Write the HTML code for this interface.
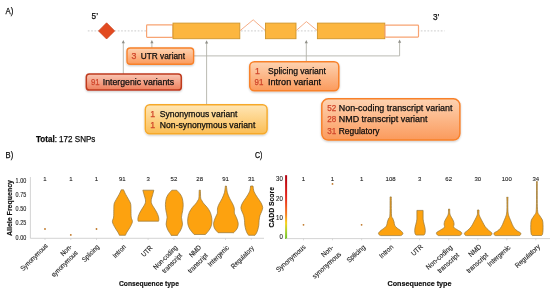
<!DOCTYPE html>
<html><head><meta charset="utf-8"><title>Figure</title>
<style>
html,body{margin:0;padding:0;background:#fff;}
body{width:550px;height:291px;overflow:hidden;font-family:"Liberation Sans",sans-serif;}
svg{display:block;font-family:"Liberation Sans",sans-serif;filter:blur(0.4px);}
.lbl{font-size:8.8px;fill:#0c0c0c;stroke:#0c0c0c;stroke-width:0.25;}
.num{fill:#d0452a;stroke:#d0452a;}
.tick{font-size:6.3px;fill:#1c1c1c;stroke:#1c1c1c;stroke-width:0.1;}
.cnt{font-size:6px;fill:#1c1c1c;stroke:#1c1c1c;stroke-width:0.1;}
.xl{font-size:7px;fill:#1c1c1c;stroke:#1c1c1c;stroke-width:0.12;}
.ax{font-size:7.2px;font-weight:bold;fill:#0c0c0c;stroke:#0c0c0c;stroke-width:0.15;}
.v path{fill:#fda20f;stroke:#94763a;stroke-width:0.7;stroke-linejoin:round;}
.arr{stroke:#b2b2aa;stroke-width:0.9;fill:none;}
.arrh{fill:#8f8f88;}
</style></head><body>
<svg width="550" height="291" viewBox="0 0 550 291">
<defs>
<linearGradient id="gO" x1="0" y1="0" x2="0" y2="1"><stop offset="0" stop-color="#fdd3b2"/><stop offset="1" stop-color="#fb9a5c"/></linearGradient>
<linearGradient id="gR" x1="0" y1="0" x2="0" y2="1"><stop offset="0" stop-color="#f9c6b4"/><stop offset="1" stop-color="#ee7f5c"/></linearGradient>
<linearGradient id="gY" x1="0" y1="0" x2="0" y2="1"><stop offset="0" stop-color="#ffe6b6"/><stop offset="1" stop-color="#fbbe55"/></linearGradient>
<linearGradient id="gBar" x1="0" y1="0" x2="0" y2="1"><stop offset="0" stop-color="#b00010"/><stop offset="0.35" stop-color="#e8281c"/><stop offset="0.62" stop-color="#f58220"/><stop offset="0.75" stop-color="#f7d21a"/><stop offset="0.88" stop-color="#a8d030"/><stop offset="1" stop-color="#6cc024"/></linearGradient>
<filter id="sh" x="-10%" y="-20%" width="120%" height="150%"><feGaussianBlur in="SourceAlpha" stdDeviation="0.9"/><feOffset dx="0" dy="1"/><feComponentTransfer><feFuncA type="linear" slope="0.22"/></feComponentTransfer><feMerge><feMergeNode/><feMergeNode in="SourceGraphic"/></feMerge></filter>
</defs>
<rect width="550" height="291" fill="#fff"/>

<text x="5.6" y="13.9" class="lbl" textLength="7.8" lengthAdjust="spacingAndGlyphs">A)</text>
<text x="91.6" y="18.7" class="lbl" style="font-size:8.8px" textLength="6.4" lengthAdjust="spacingAndGlyphs">5’</text>
<text x="433" y="20.3" class="lbl" style="font-size:8.8px" textLength="6.4" lengthAdjust="spacingAndGlyphs">3’</text>
<line x1="87.8" y1="30.9" x2="444.6" y2="30.9" stroke="#c6c6c6" stroke-width="0.9" stroke-dasharray="1.7,1.63"/>
<path d="M106.6,22.8 L114.7,30.9 L106.6,39 L98.5,30.9Z" fill="#e24a20" stroke="#c93f1a" stroke-width="0.7" stroke-linejoin="round"/>
<rect x="146.6" y="24.9" width="26.4" height="12.4" rx="0.8" fill="#fff" stroke="#f7a473" stroke-width="1.2"/>
<rect x="173" y="23.1" width="66.8" height="15.6" fill="#fcb63f" stroke="#cf962c" stroke-width="0.9"/>
<path d="M240,30.7 L253.2,19.8 L265.5,30.7" fill="none" stroke="#f4a57a" stroke-width="0.9"/>
<rect x="240.5" y="22" width="25" height="18" fill="none"/>
<rect x="265.5" y="23.1" width="30.5" height="15.6" fill="#fcb63f" stroke="#cf962c" stroke-width="0.9"/>
<path d="M296,30.7 L306.4,21.6 L317.4,30.7" fill="none" stroke="#f4a57a" stroke-width="0.9"/>
<rect x="317.4" y="23.1" width="67.4" height="15.6" fill="#fcb63f" stroke="#cf962c" stroke-width="0.9"/>
<rect x="385" y="25.1" width="33.5" height="12" rx="0.8" fill="#fff" stroke="#f7a473" stroke-width="1.2"/>
<line class="arr" x1="123.3" y1="42" x2="123.3" y2="75"/>
<path class="arrh" d="M123.3,40 l-1.6,3.2 l3.2,0z"/>
<line class="arr" x1="151.9" y1="42" x2="151.9" y2="48"/>
<path class="arrh" d="M151.9,40 l-1.6,3.2 l3.2,0z"/>
<line class="arr" x1="206.6" y1="42.2" x2="206.6" y2="105"/>
<path class="arrh" d="M206.6,40.2 l-1.6,3.2 l3.2,0z"/>
<line class="arr" x1="306.3" y1="42" x2="306.3" y2="62"/>
<path class="arrh" d="M306.3,40 l-1.6,3.2 l3.2,0z"/>
<path class="arr" d="M194,55.9 L399.6,55.9 L399.6,41.5"/>
<path class="arrh" d="M399.6,39.5 l-1.6,3.2 l3.2,0z"/>
<rect x="127" y="48" width="66.6" height="16.2" rx="3.2" ry="3.2" fill="url(#gO)" stroke="#f8812a" stroke-width="1.4" filter="url(#sh)"/>
<rect x="86.3" y="73.9" width="95" height="16.2" rx="3.2" ry="3.2" fill="url(#gR)" stroke="#bf3a1f" stroke-width="1.5" filter="url(#sh)"/>
<rect x="145.3" y="104.7" width="121.8" height="29" rx="4.5" ry="4.5" fill="url(#gY)" stroke="#f6a92a" stroke-width="1.4" filter="url(#sh)"/>
<rect x="249.7" y="61.7" width="89.1" height="29.1" rx="4.8" ry="4.8" fill="url(#gO)" stroke="#f8812a" stroke-width="1.5" filter="url(#sh)"/>
<rect x="321.8" y="98.8" width="138.1" height="41.3" rx="6.5" ry="6.5" fill="url(#gO)" stroke="#f8812a" stroke-width="1.5" filter="url(#sh)"/>
<text x="131.6" y="58.9" class="lbl num">3</text>
<text x="140.8" y="58.9" class="lbl" textLength="44.2" lengthAdjust="spacingAndGlyphs">UTR variant</text>
<text x="90.9" y="85.4" class="lbl num" textLength="8.7" lengthAdjust="spacingAndGlyphs">91</text>
<text x="102.8" y="85.4" class="lbl" textLength="71.3" lengthAdjust="spacingAndGlyphs">Intergenic variants</text>
<text x="150.3" y="116.7" class="lbl num">1</text>
<text x="159.8" y="116.7" class="lbl" textLength="77.5" lengthAdjust="spacingAndGlyphs">Synonymous variant</text>
<text x="150.3" y="127.9" class="lbl num">1</text>
<text x="159.8" y="127.9" class="lbl" textLength="95.5" lengthAdjust="spacingAndGlyphs">Non-synonymous variant</text>
<text x="255.1" y="74" class="lbl num">1</text>
<text x="268" y="74" class="lbl" textLength="58" lengthAdjust="spacingAndGlyphs">Splicing variant</text>
<text x="254.6" y="85.2" class="lbl num" textLength="8.8" lengthAdjust="spacingAndGlyphs">91</text>
<text x="268" y="85.2" class="lbl" textLength="53" lengthAdjust="spacingAndGlyphs">Intron variant</text>
<text x="327.3" y="111.1" class="lbl num" textLength="9" lengthAdjust="spacingAndGlyphs">52</text>
<text x="338.8" y="111.1" class="lbl" textLength="113.7" lengthAdjust="spacingAndGlyphs">Non-coding transcript variant</text>
<text x="327.3" y="122.3" class="lbl num" textLength="9" lengthAdjust="spacingAndGlyphs">28</text>
<text x="338.8" y="122.3" class="lbl" textLength="88.7" lengthAdjust="spacingAndGlyphs">NMD transcript variant</text>
<text x="327.3" y="133.7" class="lbl num" textLength="9" lengthAdjust="spacingAndGlyphs">31</text>
<text x="338.8" y="133.7" class="lbl" textLength="40.7" lengthAdjust="spacingAndGlyphs">Regulatory</text>
<text x="36" y="142" class="lbl" textLength="59.4" lengthAdjust="spacingAndGlyphs"><tspan font-weight="bold">Total</tspan>: 172 SNPs</text>
<text x="5.6" y="158.3" class="lbl" textLength="7.6" lengthAdjust="spacingAndGlyphs">B)</text>
<text x="255" y="158.3" class="lbl" textLength="7.4" lengthAdjust="spacingAndGlyphs">C)</text>
<line x1="30.4" y1="177" x2="30.4" y2="238.3" stroke="#c8c8c8" stroke-width="0.8"/>
<line x1="30.4" y1="238.3" x2="264" y2="238.3" stroke="#c8c8c8" stroke-width="0.8"/>
<text x="15.6" y="182.6" class="tick" textLength="10.6" lengthAdjust="spacingAndGlyphs">1.00</text>
<text x="15.6" y="196.9" class="tick" textLength="10.6" lengthAdjust="spacingAndGlyphs">0.75</text>
<text x="15.6" y="211.1" class="tick" textLength="10.6" lengthAdjust="spacingAndGlyphs">0.50</text>
<text x="15.6" y="225.3" class="tick" textLength="10.6" lengthAdjust="spacingAndGlyphs">0.25</text>
<text x="15.6" y="239.5" class="tick" textLength="10.6" lengthAdjust="spacingAndGlyphs">0.00</text>
<text x="45" y="181.3" class="cnt" text-anchor="middle">1</text>
<line x1="45" y1="238.3" x2="45" y2="240" stroke="#c8c8c8" stroke-width="0.6"/>
<text x="70.8" y="181.3" class="cnt" text-anchor="middle">1</text>
<line x1="70.8" y1="238.3" x2="70.8" y2="240" stroke="#c8c8c8" stroke-width="0.6"/>
<text x="96.5" y="181.3" class="cnt" text-anchor="middle">1</text>
<line x1="96.5" y1="238.3" x2="96.5" y2="240" stroke="#c8c8c8" stroke-width="0.6"/>
<text x="122.3" y="181.3" class="cnt" text-anchor="middle">91</text>
<line x1="122.3" y1="238.3" x2="122.3" y2="240" stroke="#c8c8c8" stroke-width="0.6"/>
<text x="148.1" y="181.3" class="cnt" text-anchor="middle">3</text>
<line x1="148.1" y1="238.3" x2="148.1" y2="240" stroke="#c8c8c8" stroke-width="0.6"/>
<text x="173.9" y="181.3" class="cnt" text-anchor="middle">52</text>
<line x1="173.9" y1="238.3" x2="173.9" y2="240" stroke="#c8c8c8" stroke-width="0.6"/>
<text x="199.7" y="181.3" class="cnt" text-anchor="middle">28</text>
<line x1="199.7" y1="238.3" x2="199.7" y2="240" stroke="#c8c8c8" stroke-width="0.6"/>
<text x="225.5" y="181.3" class="cnt" text-anchor="middle">91</text>
<line x1="225.5" y1="238.3" x2="225.5" y2="240" stroke="#c8c8c8" stroke-width="0.6"/>
<text x="251.3" y="181.3" class="cnt" text-anchor="middle">31</text>
<line x1="251.3" y1="238.3" x2="251.3" y2="240" stroke="#c8c8c8" stroke-width="0.6"/>
<text transform="translate(11.6,208) rotate(-90)" class="ax" text-anchor="middle" textLength="56" lengthAdjust="spacingAndGlyphs">Allele Frequency</text>
<circle cx="45" cy="229" r="0.9" fill="#bf7624"/>
<circle cx="70.8" cy="234.9" r="0.9" fill="#bf7624"/>
<circle cx="96.5" cy="229" r="0.9" fill="#bf7624"/>
<g class="v">
<path d="M123.60,189.80 C123.75,190.17 124.15,191.23 124.50,192.00 C124.85,192.77 125.05,193.20 125.70,194.40 C126.35,195.60 127.62,197.78 128.40,199.20 C129.18,200.62 129.98,201.77 130.40,202.90 C130.82,204.03 130.80,204.90 130.90,206.00 C131.00,207.10 130.95,207.65 131.00,209.50 C131.05,211.35 130.97,215.05 131.20,217.10 C131.43,219.15 132.62,220.07 132.40,221.80 C132.18,223.53 130.82,225.77 129.90,227.50 C128.98,229.23 127.65,230.90 126.90,232.20 C126.15,233.50 125.65,234.78 125.40,235.30 L119.40,235.30 C119.15,234.78 118.65,233.50 117.90,232.20 C117.15,230.90 115.82,229.23 114.90,227.50 C113.98,225.77 112.62,223.53 112.40,221.80 C112.18,220.07 113.37,219.15 113.60,217.10 C113.83,215.05 113.75,211.35 113.80,209.50 C113.85,207.65 113.80,207.10 113.90,206.00 C114.00,204.90 113.98,204.03 114.40,202.90 C114.82,201.77 115.62,200.62 116.40,199.20 C117.18,197.78 118.45,195.60 119.10,194.40 C119.75,193.20 119.95,192.77 120.30,192.00 C120.65,191.23 121.05,190.17 121.20,189.80Z"/>
<path d="M153.85,190.20 C153.67,190.90 153.12,193.10 152.75,194.40 C152.38,195.70 151.92,196.90 151.65,198.00 C151.38,199.10 151.13,200.00 151.15,201.00 C151.17,202.00 151.25,202.83 151.75,204.00 C152.25,205.17 153.35,206.67 154.15,208.00 C154.95,209.33 155.85,210.63 156.55,212.00 C157.25,213.37 157.97,214.95 158.35,216.20 C158.73,217.45 158.82,218.67 158.85,219.50 C158.88,220.33 158.60,220.92 158.55,221.20 L138.15,221.20 C138.10,220.92 137.82,220.33 137.85,219.50 C137.88,218.67 137.97,217.45 138.35,216.20 C138.73,214.95 139.45,213.37 140.15,212.00 C140.85,210.63 141.75,209.33 142.55,208.00 C143.35,206.67 144.45,205.17 144.95,204.00 C145.45,202.83 145.53,202.00 145.55,201.00 C145.57,200.00 145.32,199.10 145.05,198.00 C144.78,196.90 144.32,195.70 143.95,194.40 C143.58,193.10 143.03,190.90 142.85,190.20Z"/>
<path d="M176.70,190.20 C177.07,190.58 178.22,191.70 178.90,192.50 C179.58,193.30 180.22,193.97 180.80,195.00 C181.38,196.03 182.00,197.10 182.40,198.70 C182.80,200.30 183.15,202.63 183.20,204.60 C183.25,206.57 182.98,208.38 182.70,210.50 C182.42,212.62 181.53,215.02 181.50,217.30 C181.47,219.58 182.63,222.08 182.50,224.20 C182.37,226.32 181.47,228.30 180.70,230.00 C179.93,231.70 178.43,233.50 177.90,234.40 C177.37,235.30 177.57,235.23 177.50,235.40 L171.10,235.40 C171.03,235.23 171.23,235.30 170.70,234.40 C170.17,233.50 168.67,231.70 167.90,230.00 C167.13,228.30 166.23,226.32 166.10,224.20 C165.97,222.08 167.13,219.58 167.10,217.30 C167.07,215.02 166.18,212.62 165.90,210.50 C165.62,208.38 165.35,206.57 165.40,204.60 C165.45,202.63 165.80,200.30 166.20,198.70 C166.60,197.10 167.22,196.03 167.80,195.00 C168.38,193.97 169.02,193.30 169.70,192.50 C170.38,191.70 171.53,190.58 171.90,190.20Z"/>
<path d="M200.40,190.20 C200.45,191.50 200.48,196.32 200.70,198.00 C200.92,199.68 201.32,199.53 201.70,200.30 C202.08,201.07 202.45,201.82 203.00,202.60 C203.55,203.38 204.28,204.18 205.00,205.00 C205.72,205.82 206.42,206.27 207.30,207.50 C208.18,208.73 209.55,210.60 210.30,212.40 C211.05,214.20 211.57,216.33 211.80,218.30 C212.03,220.27 212.03,222.40 211.70,224.20 C211.37,226.00 210.62,227.63 209.80,229.10 C208.98,230.57 207.53,232.10 206.80,233.00 C206.07,233.90 205.63,234.25 205.40,234.50 L194.20,234.50 C193.97,234.25 193.53,233.90 192.80,233.00 C192.07,232.10 190.62,230.57 189.80,229.10 C188.98,227.63 188.23,226.00 187.90,224.20 C187.57,222.40 187.57,220.27 187.80,218.30 C188.03,216.33 188.55,214.20 189.30,212.40 C190.05,210.60 191.42,208.73 192.30,207.50 C193.18,206.27 193.88,205.82 194.60,205.00 C195.32,204.18 196.05,203.38 196.60,202.60 C197.15,201.82 197.52,201.07 197.90,200.30 C198.28,199.53 198.68,199.68 198.90,198.00 C199.12,196.32 199.15,191.50 199.20,190.20Z"/>
<path d="M226.40,186.00 C226.57,187.13 226.83,190.68 227.40,192.80 C227.97,194.92 228.95,196.90 229.80,198.70 C230.65,200.50 231.78,202.13 232.50,203.60 C233.22,205.07 233.78,206.35 234.10,207.50 C234.42,208.65 234.35,209.55 234.40,210.50 C234.45,211.45 234.08,212.07 234.40,213.20 C234.72,214.33 235.67,215.63 236.30,217.30 C236.93,218.97 238.02,221.40 238.20,223.20 C238.38,225.00 237.95,226.73 237.40,228.10 C236.85,229.47 235.52,230.63 234.90,231.40 C234.28,232.17 233.90,232.48 233.70,232.70 L218.10,232.70 C217.90,232.48 217.52,232.17 216.90,231.40 C216.28,230.63 214.95,229.47 214.40,228.10 C213.85,226.73 213.42,225.00 213.60,223.20 C213.78,221.40 214.87,218.97 215.50,217.30 C216.13,215.63 217.08,214.33 217.40,213.20 C217.72,212.07 217.35,211.45 217.40,210.50 C217.45,209.55 217.38,208.65 217.70,207.50 C218.02,206.35 218.58,205.07 219.30,203.60 C220.02,202.13 221.15,200.50 222.00,198.70 C222.85,196.90 223.83,194.92 224.40,192.80 C224.97,190.68 225.23,187.13 225.40,186.00Z"/>
<path d="M253.00,186.00 C253.18,186.97 253.33,189.85 254.10,191.80 C254.87,193.75 256.47,195.90 257.60,197.70 C258.73,199.50 260.05,200.97 260.90,202.60 C261.75,204.23 262.57,206.03 262.70,207.50 C262.83,208.97 262.15,210.08 261.70,211.40 C261.25,212.72 260.43,213.92 260.00,215.40 C259.57,216.88 259.30,218.67 259.10,220.30 C258.90,221.93 259.03,223.58 258.80,225.20 C258.57,226.82 258.08,228.70 257.70,230.00 C257.32,231.30 256.95,232.12 256.50,233.00 C256.05,233.88 255.25,234.92 255.00,235.30 L248.60,235.30 C248.35,234.92 247.55,233.88 247.10,233.00 C246.65,232.12 246.28,231.30 245.90,230.00 C245.52,228.70 245.03,226.82 244.80,225.20 C244.57,223.58 244.70,221.93 244.50,220.30 C244.30,218.67 244.03,216.88 243.60,215.40 C243.17,213.92 242.35,212.72 241.90,211.40 C241.45,210.08 240.77,208.97 240.90,207.50 C241.03,206.03 241.85,204.23 242.70,202.60 C243.55,200.97 244.87,199.50 246.00,197.70 C247.13,195.90 248.73,193.75 249.50,191.80 C250.27,189.85 250.42,186.97 250.60,186.00Z"/>
</g>
<text transform="translate(48.1,246.4) rotate(-45) scale(0.87,1)" class="xl" text-anchor="end">Synonymous</text>
<text transform="translate(72.5,247.2) rotate(-45) scale(0.87,1)" class="xl" text-anchor="end">Non-</text>
<text transform="translate(78.1,253.4) rotate(-45) scale(0.87,1)" class="xl" text-anchor="end">synonymous</text>
<text transform="translate(99.7,247.4) rotate(-45) scale(0.87,1)" class="xl" text-anchor="end">Splicing</text>
<text transform="translate(126.5,247.4) rotate(-45) scale(0.87,1)" class="xl" text-anchor="end">Intron</text>
<text transform="translate(152.9,248.5) rotate(-45) scale(0.87,1)" class="xl" text-anchor="end">UTR</text>
<text transform="translate(178,248) rotate(-45) scale(0.87,1)" class="xl" text-anchor="end">Non-coding</text>
<text transform="translate(182.5,255.9) rotate(-45) scale(0.87,1)" class="xl" text-anchor="end">transcript</text>
<text transform="translate(201.7,248) rotate(-45) scale(0.87,1)" class="xl" text-anchor="end">NMD</text>
<text transform="translate(208.3,255.9) rotate(-45) scale(0.87,1)" class="xl" text-anchor="end">transcript</text>
<text transform="translate(229.5,248) rotate(-45) scale(0.87,1)" class="xl" text-anchor="end">Intergenic</text>
<text transform="translate(254.5,248.4) rotate(-45) scale(0.87,1)" class="xl" text-anchor="end">Regulatory</text>
<text x="119" y="285.5" class="ax" textLength="60" lengthAdjust="spacingAndGlyphs">Consequence type</text>
<rect x="285.1" y="175.2" width="2" height="63.8" fill="url(#gBar)"/>
<line x1="286" y1="238.6" x2="550" y2="238.6" stroke="#c8c8c8" stroke-width="0.8"/>
<text x="282.8" y="181.4" class="tick" text-anchor="end" style="font-size:6.8px" textLength="6.7" lengthAdjust="spacingAndGlyphs">30</text>
<text x="282.8" y="200.5" class="tick" text-anchor="end" style="font-size:6.8px" textLength="6.7" lengthAdjust="spacingAndGlyphs">20</text>
<text x="282.8" y="219.8" class="tick" text-anchor="end" style="font-size:6.8px" textLength="6.7" lengthAdjust="spacingAndGlyphs">10</text>
<text x="282.8" y="239" class="tick" text-anchor="end" style="font-size:6.8px" textLength="3.35" lengthAdjust="spacingAndGlyphs">0</text>
<text x="303.5" y="180.8" class="cnt" text-anchor="middle">1</text>
<line x1="303.5" y1="238.6" x2="303.5" y2="240.3" stroke="#c8c8c8" stroke-width="0.6"/>
<text x="332.5" y="180.8" class="cnt" text-anchor="middle">1</text>
<line x1="332.5" y1="238.6" x2="332.5" y2="240.3" stroke="#c8c8c8" stroke-width="0.6"/>
<text x="361.6" y="180.8" class="cnt" text-anchor="middle">1</text>
<line x1="361.6" y1="238.6" x2="361.6" y2="240.3" stroke="#c8c8c8" stroke-width="0.6"/>
<text x="390.6" y="180.8" class="cnt" text-anchor="middle">108</text>
<line x1="390.6" y1="238.6" x2="390.6" y2="240.3" stroke="#c8c8c8" stroke-width="0.6"/>
<text x="419.6" y="180.8" class="cnt" text-anchor="middle">3</text>
<line x1="419.6" y1="238.6" x2="419.6" y2="240.3" stroke="#c8c8c8" stroke-width="0.6"/>
<text x="448.7" y="180.8" class="cnt" text-anchor="middle">62</text>
<line x1="448.7" y1="238.6" x2="448.7" y2="240.3" stroke="#c8c8c8" stroke-width="0.6"/>
<text x="477.8" y="180.8" class="cnt" text-anchor="middle">30</text>
<line x1="477.8" y1="238.6" x2="477.8" y2="240.3" stroke="#c8c8c8" stroke-width="0.6"/>
<text x="506.8" y="180.8" class="cnt" text-anchor="middle">100</text>
<line x1="506.8" y1="238.6" x2="506.8" y2="240.3" stroke="#c8c8c8" stroke-width="0.6"/>
<text x="535.8" y="180.8" class="cnt" text-anchor="middle">34</text>
<line x1="535.8" y1="238.6" x2="535.8" y2="240.3" stroke="#c8c8c8" stroke-width="0.6"/>
<text transform="translate(274.3,207.3) rotate(-90)" class="ax" text-anchor="middle" textLength="40.5" lengthAdjust="spacingAndGlyphs">CADD Score</text>
<circle cx="303.5" cy="224.8" r="0.9" fill="#bf7624"/>
<circle cx="332.5" cy="183.9" r="0.9" fill="#bf7624"/>
<circle cx="361.6" cy="224.8" r="0.9" fill="#bf7624"/>
<g class="v">
<path d="M391.30,196.90 C391.33,199.92 391.27,211.43 391.50,215.00 C391.73,218.57 392.28,217.17 392.70,218.30 C393.12,219.43 393.67,220.65 394.00,221.80 C394.33,222.95 394.20,224.17 394.70,225.20 C395.20,226.23 396.00,227.10 397.00,228.00 C398.00,228.90 399.72,229.72 400.70,230.60 C401.68,231.48 402.70,232.55 402.90,233.30 C403.10,234.05 402.30,234.72 401.90,235.10 C401.50,235.48 400.73,235.52 400.50,235.60 L380.90,235.60 C380.67,235.52 379.90,235.48 379.50,235.10 C379.10,234.72 378.30,234.05 378.50,233.30 C378.70,232.55 379.72,231.48 380.70,230.60 C381.68,229.72 383.40,228.90 384.40,228.00 C385.40,227.10 386.20,226.23 386.70,225.20 C387.20,224.17 387.07,222.95 387.40,221.80 C387.73,220.65 388.28,219.43 388.70,218.30 C389.12,217.17 389.67,218.57 389.90,215.00 C390.13,211.43 390.07,199.92 390.10,196.90Z"/>
<path d="M416.9,210.4 L423.1,210.4 L423.1,219.1 C423.3,222.5 425.3,227 425.3,230.5 C425.3,233 424.8,235.1 423.6,235.1 L416.4,235.1 C415.2,235.1 414.7,233 414.7,230.5 C414.7,227 416.7,222.5 416.9,219.1Z"/>
<path d="M449.70,209.10 C449.73,209.92 449.62,212.63 449.90,214.00 C450.18,215.37 450.82,216.15 451.40,217.30 C451.98,218.45 452.95,219.75 453.40,220.90 C453.85,222.05 454.03,223.13 454.10,224.20 C454.17,225.27 453.20,226.33 453.80,227.30 C454.40,228.27 456.38,229.10 457.70,230.00 C459.02,230.90 461.20,231.85 461.70,232.70 C462.20,233.55 461.10,234.62 460.70,235.10 C460.30,235.58 459.53,235.52 459.30,235.60 L438.90,235.60 C438.67,235.52 437.90,235.58 437.50,235.10 C437.10,234.62 436.00,233.55 436.50,232.70 C437.00,231.85 439.18,230.90 440.50,230.00 C441.82,229.10 443.80,228.27 444.40,227.30 C445.00,226.33 444.03,225.27 444.10,224.20 C444.17,223.13 444.35,222.05 444.80,220.90 C445.25,219.75 446.22,218.45 446.80,217.30 C447.38,216.15 448.02,215.37 448.30,214.00 C448.58,212.63 448.47,209.92 448.50,209.10Z"/>
<path d="M479.00,210.00 C479.00,210.72 478.78,213.03 479.00,214.30 C479.22,215.57 479.68,216.28 480.30,217.60 C480.92,218.92 481.87,220.67 482.70,222.20 C483.53,223.73 484.32,225.47 485.30,226.80 C486.28,228.13 487.50,229.17 488.60,230.20 C489.70,231.23 491.47,232.17 491.90,233.00 C492.33,233.83 491.55,234.77 491.20,235.20 C490.85,235.63 490.03,235.53 489.80,235.60 L466.60,235.60 C466.37,235.53 465.55,235.63 465.20,235.20 C464.85,234.77 464.07,233.83 464.50,233.00 C464.93,232.17 466.70,231.23 467.80,230.20 C468.90,229.17 470.12,228.13 471.10,226.80 C472.08,225.47 472.87,223.73 473.70,222.20 C474.53,220.67 475.48,218.92 476.10,217.60 C476.72,216.28 477.18,215.57 477.40,214.30 C477.62,213.03 477.40,210.72 477.40,210.00Z"/>
<path d="M508.20,197.30 C508.15,197.58 507.95,196.88 507.90,199.00 C507.85,201.12 507.78,207.28 507.90,210.00 C508.02,212.72 508.18,213.65 508.60,215.30 C509.02,216.95 509.78,218.37 510.40,219.90 C511.02,221.43 511.60,223.07 512.30,224.50 C513.00,225.93 513.75,227.42 514.60,228.50 C515.45,229.58 516.38,230.25 517.40,231.00 C518.42,231.75 520.23,232.30 520.70,233.00 C521.17,233.70 520.52,234.77 520.20,235.20 C519.88,235.63 519.03,235.53 518.80,235.60 L496.00,235.60 C495.77,235.53 494.92,235.63 494.60,235.20 C494.28,234.77 493.63,233.70 494.10,233.00 C494.57,232.30 496.38,231.75 497.40,231.00 C498.42,230.25 499.35,229.58 500.20,228.50 C501.05,227.42 501.80,225.93 502.50,224.50 C503.20,223.07 503.78,221.43 504.40,219.90 C505.02,218.37 505.78,216.95 506.20,215.30 C506.62,213.65 506.78,212.72 506.90,210.00 C507.02,207.28 506.95,201.12 506.90,199.00 C506.85,196.88 506.65,197.58 506.60,197.30Z"/>
<path d="M537.30,181.40 C537.33,186.08 537.13,203.85 537.50,209.50 C537.87,215.15 538.68,213.57 539.50,215.30 C540.32,217.03 541.82,218.37 542.40,219.90 C542.98,221.43 542.90,222.78 543.00,224.50 C543.10,226.22 543.08,228.57 543.00,230.20 C542.92,231.83 542.75,233.42 542.50,234.30 C542.25,235.18 541.67,235.30 541.50,235.50 L532.30,235.50 C532.13,235.30 531.55,235.18 531.30,234.30 C531.05,233.42 530.88,231.83 530.80,230.20 C530.72,228.57 530.70,226.22 530.80,224.50 C530.90,222.78 530.82,221.43 531.40,219.90 C531.98,218.37 533.48,217.03 534.30,215.30 C535.12,213.57 535.93,215.15 536.30,209.50 C536.67,203.85 536.47,186.08 536.50,181.40Z"/>
</g>
<text transform="translate(306.1,247.7) rotate(-42) scale(0.92,1)" class="xl" text-anchor="end">Synonymous</text>
<text transform="translate(334.1,248.2) rotate(-42) scale(0.92,1)" class="xl" text-anchor="end">Non-</text>
<text transform="translate(341.7,254.8) rotate(-42) scale(0.92,1)" class="xl" text-anchor="end">synonymous</text>
<text transform="translate(365.9,247.9) rotate(-42) scale(0.92,1)" class="xl" text-anchor="end">Splicing</text>
<text transform="translate(393.9,247.7) rotate(-42) scale(0.92,1)" class="xl" text-anchor="end">Intron</text>
<text transform="translate(423.5,247.4) rotate(-42) scale(0.92,1)" class="xl" text-anchor="end">UTR</text>
<text transform="translate(453,248) rotate(-42) scale(0.92,1)" class="xl" text-anchor="end">Non-coding</text>
<text transform="translate(459.6,255.9) rotate(-42) scale(0.92,1)" class="xl" text-anchor="end">transcript</text>
<text transform="translate(482,247.4) rotate(-42) scale(0.92,1)" class="xl" text-anchor="end">NMD</text>
<text transform="translate(488.6,255.9) rotate(-42) scale(0.92,1)" class="xl" text-anchor="end">transcript</text>
<text transform="translate(511,248) rotate(-42) scale(0.92,1)" class="xl" text-anchor="end">Intergenic</text>
<text transform="translate(540.6,247.4) rotate(-42) scale(0.92,1)" class="xl" text-anchor="end">Regulatory</text>
<text x="387.5" y="285.5" class="ax" textLength="64" lengthAdjust="spacingAndGlyphs">Consequence type</text>
</svg></body></html>
